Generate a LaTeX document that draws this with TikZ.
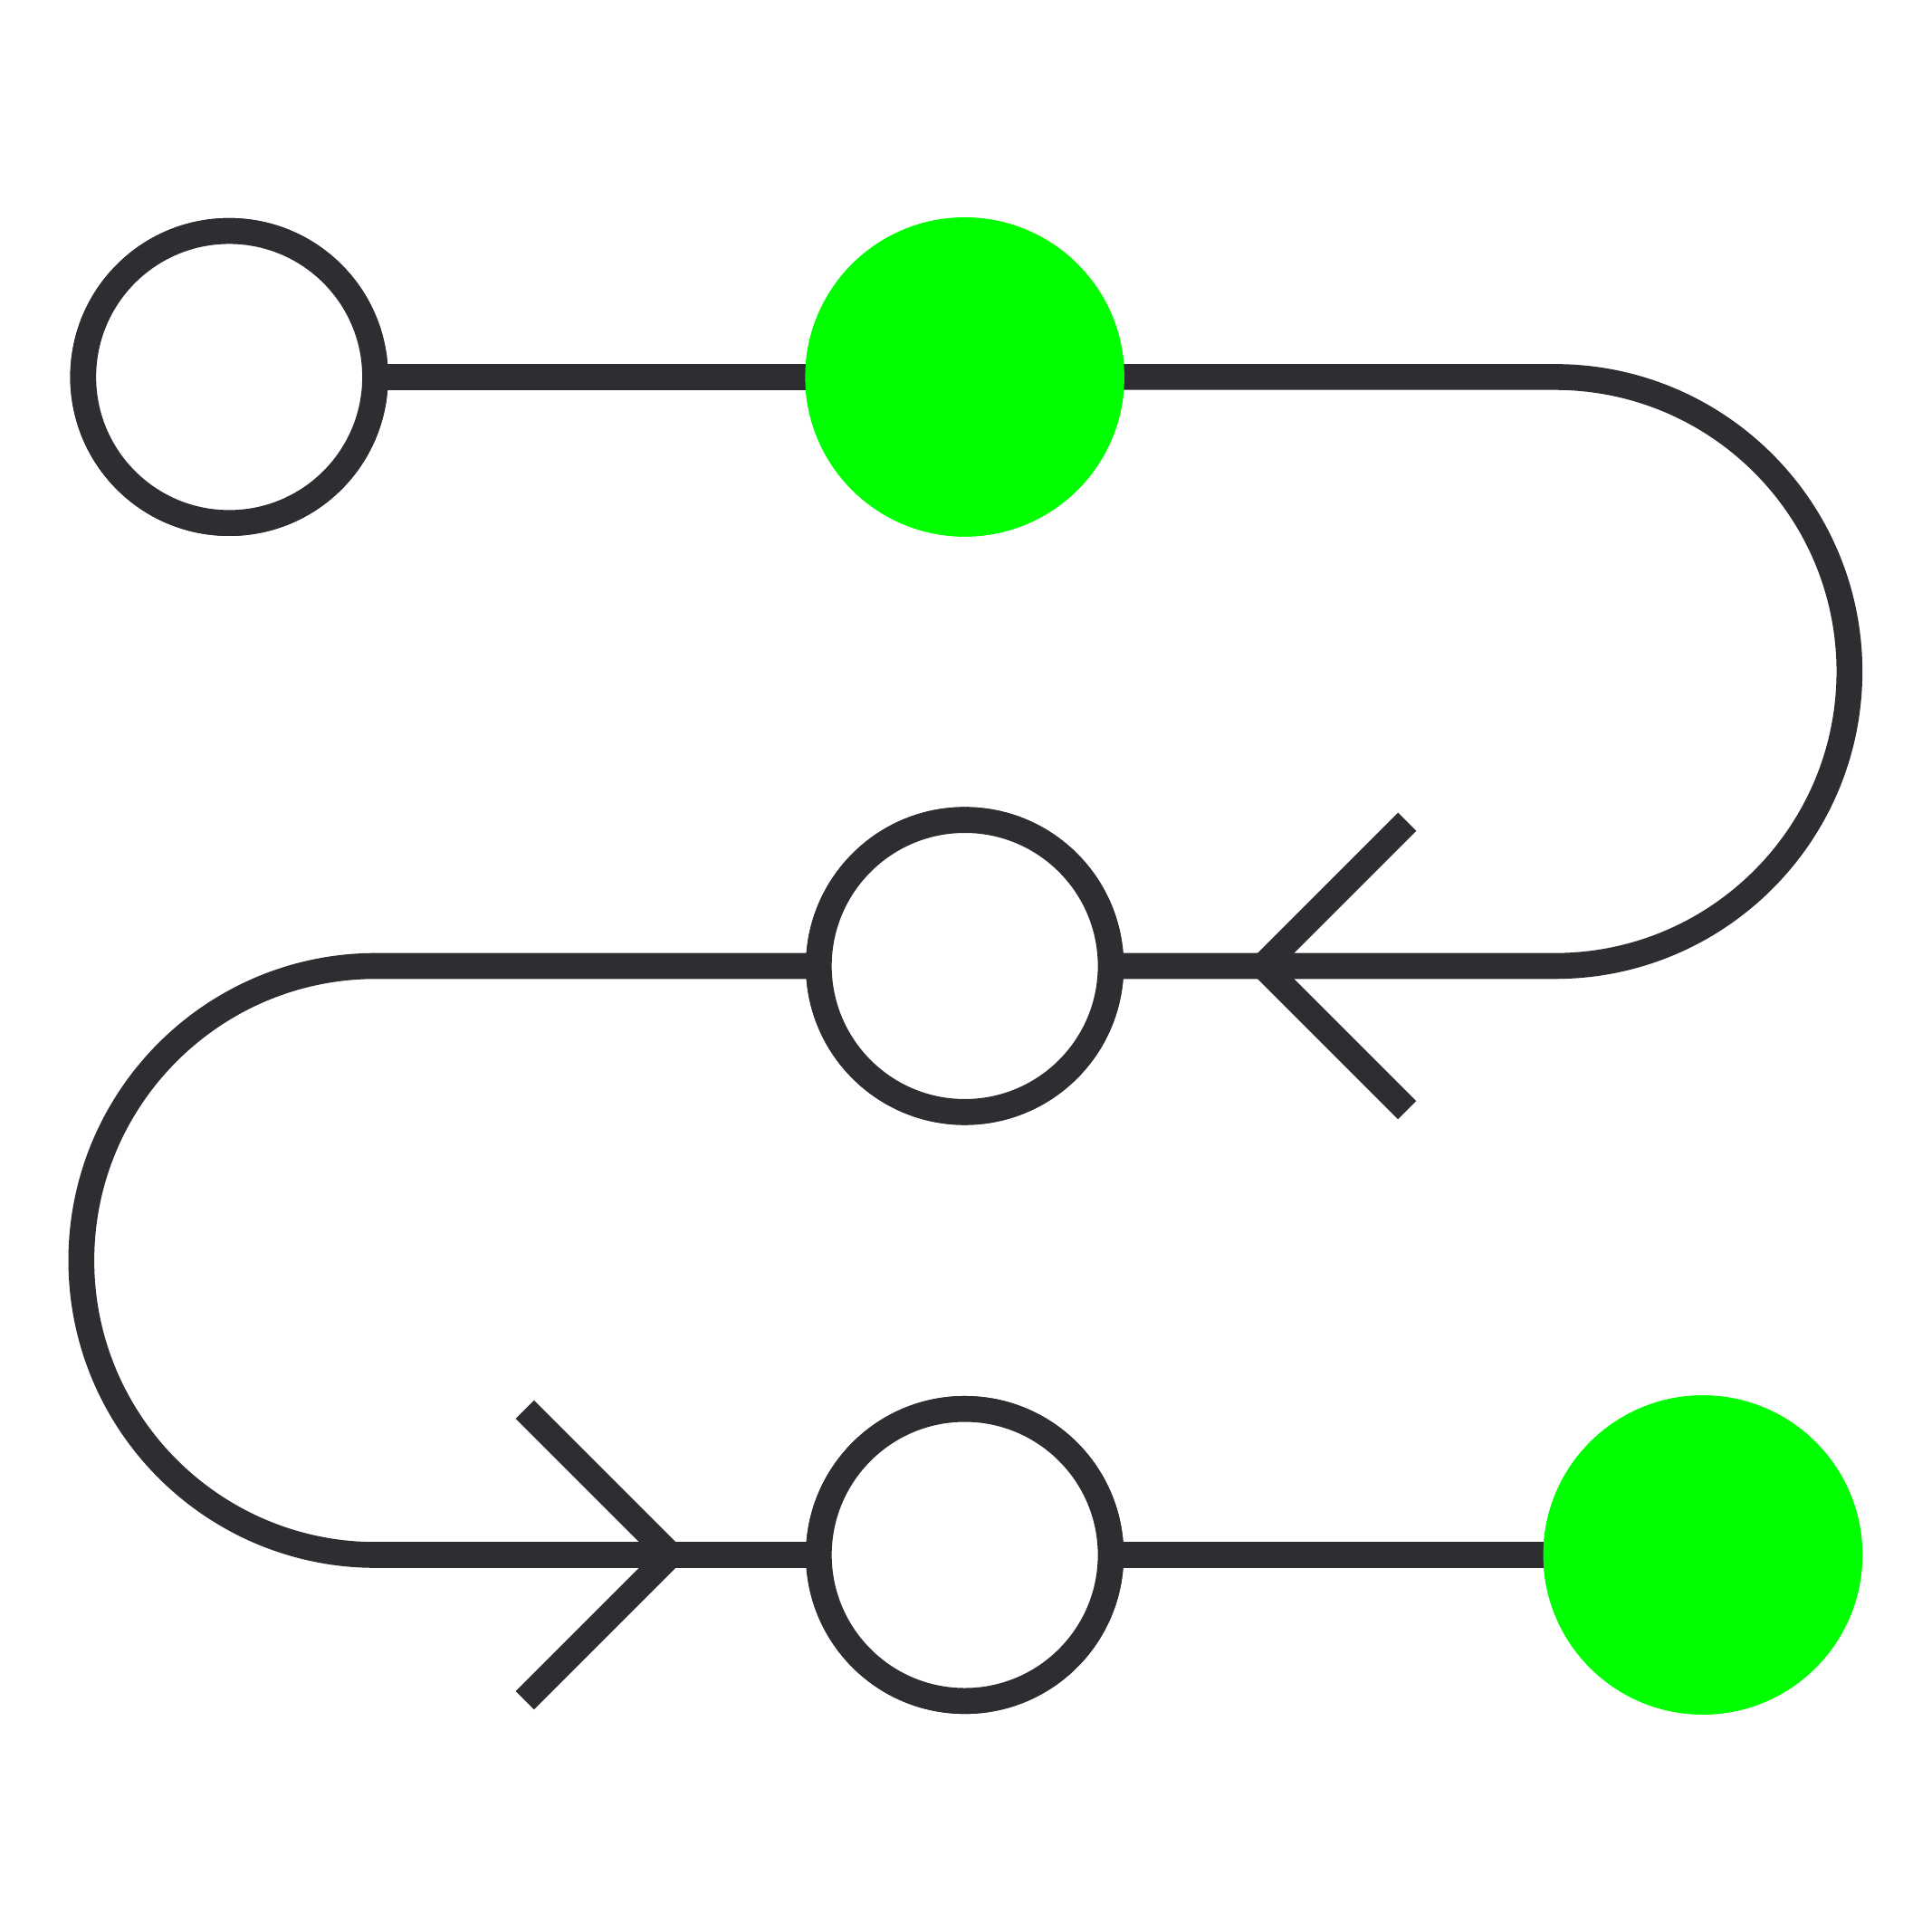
\documentclass[tikz,border=0pt]{standalone}
\usepackage{tikz}
\usepackage{xcolor}
\definecolor{ink}{HTML}{2E2E32}
\definecolor{lime}{HTML}{00FF00}
\tikzset{
    track/.style = {draw=ink, line width=0.21cm},
    stop-node/.style = {draw=ink, fill=white, line width=0.21cm, circle, inner sep=0pt, minimum size=2.37cm},
    done-node/.style = {fill=lime, circle, inner sep=0pt, minimum size=2.59cm},
    chevron/.style = {draw=ink, line width=0.21cm, miter limit=10},
}

\begin{document}
\begin{tikzpicture}
\useasboundingbox (0,0) rectangle (15.68,15.68);
% turning points of the track
\coordinate (turn-a) at (12.62,12.62);
\coordinate (turn-b) at (3.05,7.84);
% stops
\node[stop-node] (start) at (1.86,12.62) {};
\node[done-node] (done-top) at (7.83,12.62) {};
\node[stop-node] (mid) at (7.83,7.84) {};
\node[stop-node] (low) at (7.83,3.06) {};
\node[done-node] (done-low) at (13.82,3.06) {};
% track
\draw[track] (start.center) -- (done-top.center);
\draw[track] (done-top.center) -- (turn-a) arc[start angle=90, end angle=-90, radius=2.39] -- (mid.center);
\draw[track] (mid.center) -- (turn-b) arc[start angle=90, end angle=270, radius=2.39] -- (low.center);
\draw[track] (low.center) -- (done-low.center);
% direction marks
\coordinate (tip-a) at (10.25,7.84);
\coordinate (arm-a1) at (11.42,9.01);
\coordinate (arm-a2) at (11.42,6.67);
\coordinate (tip-b) at (5.44,3.06);
\coordinate (arm-b1) at (4.26,4.24);
\coordinate (arm-b2) at (4.26,1.88);
\draw[chevron] (arm-a1) -- (tip-a) -- (arm-a2);
\draw[chevron] (arm-b1) -- (tip-b) -- (arm-b2);
% redraw stops above the track
\node[stop-node] at (start) {};
\node[done-node] at (done-top) {};
\node[stop-node] at (mid) {};
\node[stop-node] at (low) {};
\node[done-node] at (done-low) {};
\end{tikzpicture}
\end{document}
